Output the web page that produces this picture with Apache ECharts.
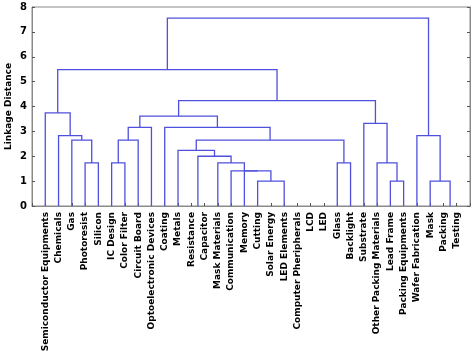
<!DOCTYPE html>
<html>
<head>
<meta charset="utf-8">
<script src="https://cdn.jsdelivr.net/npm/echarts@6/dist/echarts.min.js"></script>
<style>html,body{margin:0;padding:0;background:#fff}#c{width:474px;height:355px}</style>
</head>
<body>
<div id="c"></div>
<script>
// Leaves in plotted order (x positions 0..31)
const leaves = ["Semiconductor Equipments","Chemicals","Gas","Photoresist","Silicon","IC Design","Color Filter","Circuit Board","Optoelectronic Devices","Coating","Metals","Resistance","Capacitor","Mask Materials","Communication","Memory","Cutting","Solar Energy","LED Elements","Computer Pheripherals","LCD","LED","Glass","Backlight","Substrate","Other Packing Materials","Lead Frame","Packing Equipments","Wafer Fabrication","Mask","Packing","Testing"];

// Merge steps: children are a leaf name or the index of an earlier merge
const mergeChildren = [
  ["Photoresist","Silicon"],
  ["Gas",0],
  ["Chemicals",1],
  ["Semiconductor Equipments",2],
  ["IC Design","Color Filter"],
  [4,"Circuit Board"],
  [5,"Optoelectronic Devices"],
  ["Resistance","Capacitor"],
  ["Computer Pheripherals","LED"],
  ["LCD",8],
  ["LED Elements",9],
  ["Solar Energy",10],
  ["Cutting",11],
  ["Memory",12],
  ["Communication",13],
  ["Mask Materials",14],
  [7,15],
  ["Metals",16],
  ["Glass","Backlight"],
  [17,18],
  ["Coating",19],
  [6,20],
  ["Lead Frame","Packing Equipments"],
  ["Other Packing Materials",22],
  ["Substrate",23],
  [21,24],
  [3,25],
  ["Packing","Testing"],
  ["Mask",27],
  ["Wafer Fabrication",28],
  [26,29]
];
// Linkage distance of each merge step
const linkageDistance = [1.73,2.65,2.83,3.74,1.73,2.65,3.16,0,0,0,0,0,1.0,1.41,1.41,1.73,2.0,2.24,1.73,2.65,3.16,3.61,1.0,1.73,3.32,4.24,5.48,0,1.0,2.83,7.55];

const yTicks = [0,1,2,3,4,5,6,7,8];

// Build segment data from the tree (positions = leaf index / midpoint of children)
const pos = [], hgt = [];
function info(c){
  if (typeof c === 'string') return [leaves.indexOf(c), 0];
  return [pos[c], hgt[c]];
}
const segs = [];
mergeChildren.forEach(function(ch, i){
  const a = info(ch[0]), b = info(ch[1]);
  const h = linkageDistance[i];
  pos[i] = (a[0] + b[0]) / 2;
  hgt[i] = h;
  if (h > 0) segs.push([a[0], a[1], a[0], h, b[0], h, b[0], b[1]]);
});

const LINE = '#5050de';
const FONT = 'DejaVu Sans';
const chart = echarts.init(document.getElementById('c'), null, {renderer:'canvas'});
chart.setOption({
  animation: false,
  backgroundColor: '#fff',
  grid: {left: 32, right: 4, top: 7, bottom: 149, containLabel: false, outerBoundsMode: 'none',
         show: true, borderColor: '#8a8a8a', borderWidth: 1},
  xAxis: {
    type: 'value', min: -1, max: 32, interval: 1,
    axisLine: {show: true, onZero: false, lineStyle: {color: '#8a8a8a'}},
    axisTick: {show: true, inside: true, length: 3, lineStyle: {color: '#555'}},
    splitLine: {show: false},
    axisLabel: {
      rotate: 90, margin: 6, fontFamily: FONT, fontWeight: 'bold', fontSize: 9, color: '#000',
      hideOverlap: false, showMinLabel: true, showMaxLabel: true,
      formatter: function(v){ return (v >= 0 && v < leaves.length) ? leaves[v] : ''; }
    }
  },
  yAxis: [{
    type: 'value', min: 0, max: 8, interval: 1,
    name: 'Linkage Distance', nameLocation: 'middle', nameGap: 19, nameRotate: 90,
    nameMoveOverlap: false,
    nameTextStyle: {fontFamily: FONT, fontWeight: 'bold', fontSize: 9, color: '#000'},
    axisLine: {show: true, onZero: false, lineStyle: {color: '#8a8a8a'}},
    axisTick: {show: true, inside: true, length: 3, lineStyle: {color: '#555'}},
    splitLine: {show: false},
    axisLabel: {margin: 5, fontFamily: FONT, fontWeight: 'bold', fontSize: 10, color: '#000',
      formatter: function(v){ return yTicks.indexOf(v) >= 0 ? String(v) : ''; }}
  },{
    type: 'value', min: 0, max: 8, interval: 1, position: 'right',
    axisLine: {show: true, onZero: false, lineStyle: {color: '#8a8a8a'}},
    axisTick: {show: true, inside: true, length: 3, lineStyle: {color: '#555'}},
    axisLabel: {show: false}, splitLine: {show: false}
  }],
  series: [{
    type: 'custom',
    coordinateSystem: 'cartesian2d',
    encode: {x: [0,2,4,6], y: [1,3,5,7]},
    data: segs,
    renderItem: function(params, api){
      const pts = [];
      for (let k = 0; k < 4; k++) pts.push(api.coord([api.value(2*k), api.value(2*k+1)]));
      return {type: 'polyline', shape: {points: pts}, style: {stroke: LINE, lineWidth: 1.3, fill: null}};
    }
  }]
});
</script>
</body>
</html>
